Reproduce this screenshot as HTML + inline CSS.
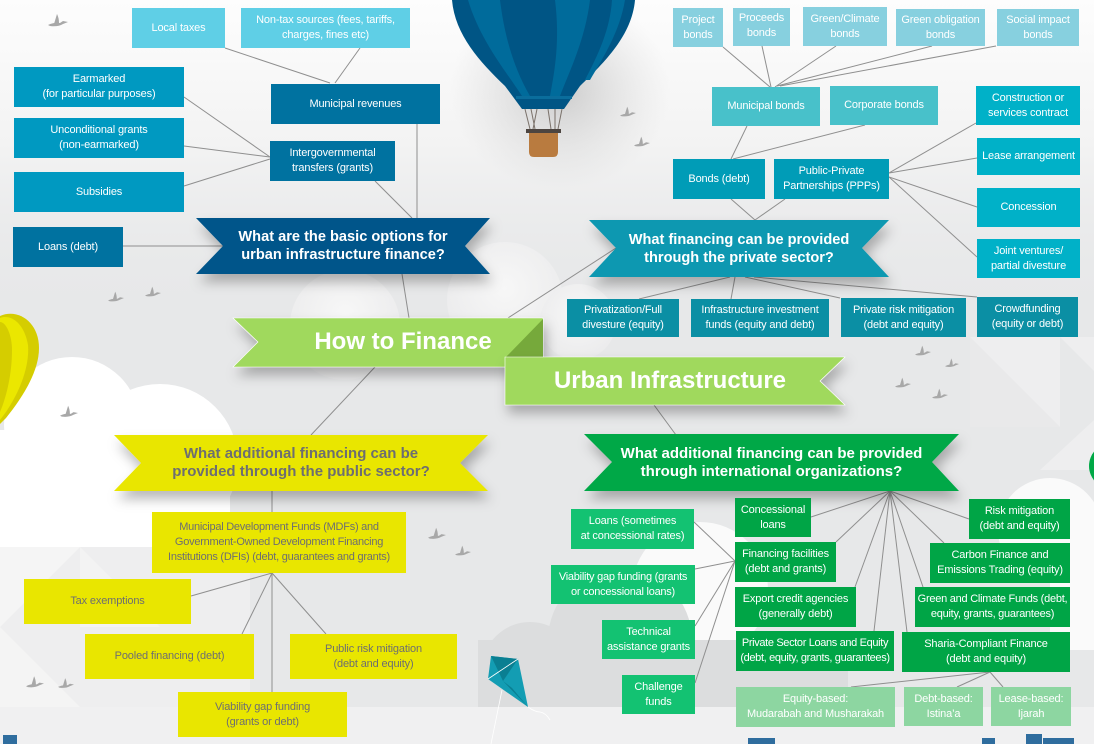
<!DOCTYPE html>
<html><head><meta charset="utf-8">
<style>
html,body{margin:0;padding:0;}
body{width:1094px;height:744px;overflow:hidden;position:relative;background:#e7e8e9;font-family:"Liberation Sans",sans-serif;}
svg.bg{position:absolute;left:0;top:0;}
.b{position:absolute;display:flex;align-items:center;justify-content:center;text-align:center;color:#fff;font-size:11px;line-height:15px;letter-spacing:-0.15px;white-space:nowrap;box-sizing:border-box;}
.y{background:#e9e600;color:#6d6e71;}
.rt{position:absolute;display:flex;align-items:center;justify-content:center;text-align:center;font-weight:bold;font-size:14.6px;line-height:18px;color:#fff;white-space:nowrap;}
</style></head><body>
<svg class="bg" width="1094" height="744" viewBox="0 0 1094 744" xmlns="http://www.w3.org/2000/svg">
<defs>
<linearGradient id="topg" x1="0" y1="0" x2="0" y2="1">
<stop offset="0" stop-color="#fdfdfd"/><stop offset="0.45" stop-color="#f3f3f3"/><stop offset="1" stop-color="#e7e8e9" stop-opacity="0"/>
</linearGradient>
<radialGradient id="bsh" cx="0.5" cy="0.5" r="0.5">
<stop offset="0" stop-color="#b9b9b9" stop-opacity="0.7"/><stop offset="1" stop-color="#d0d0d0" stop-opacity="0"/>
</radialGradient>
<radialGradient id="cl" cx="0.5" cy="0.4" r="0.6">
<stop offset="0" stop-color="#f7f7f7"/><stop offset="1" stop-color="#ebebec"/>
</radialGradient>
<filter id="ds" x="-10%" y="-20%" width="130%" height="180%">
<feDropShadow dx="3" dy="8" stdDeviation="6" flood-color="#000" flood-opacity="0.28"/>
</filter>
<symbol id="bird" viewBox="0 0 20 16" overflow="visible">
<path d="M0,11 Q6,8 12,9 L15,7 L20,8 L15,10 Q10,13 2,12 Z" fill="#a8a8a8"/>
<path d="M6,10 L9,0 Q11,4 11,9 Z" fill="#a8a8a8"/>
</symbol>
</defs>
<!-- background -->
<rect x="0" y="0" width="1094" height="744" fill="#e7e8e9"/>
<rect x="0" y="0" width="1094" height="320" fill="url(#topg)"/>
<!-- balloon shadow -->
<ellipse cx="560" cy="90" rx="110" ry="100" fill="url(#bsh)"/>
<!-- triangle pattern right -->
<g fill="#eeeeef">
<polygon points="970,337 1060,337 1060,427"/>
<polygon points="1060,337 1094,337 1094,371"/>
<polygon points="1094,420 1040,470 1094,470"/>
</g>
<g fill="#e9e9ea">
<polygon points="970,337 970,427 1060,427"/>
</g>
<!-- white clouds -->
<g fill="#ffffff">
<circle cx="72" cy="425" r="68"/>
<circle cx="160" cy="462" r="78"/>
<rect x="0" y="430" width="230" height="117"/>
</g>
<g fill="url(#cl)">
<circle cx="345" cy="325" r="55"/>
<circle cx="505" cy="300" r="58"/>
<circle cx="578" cy="322" r="38"/>
</g>
<g fill="#fafafa">
<circle cx="700" cy="590" r="68"/>
<circle cx="1050" cy="530" r="52"/>
<rect x="1050" y="530" width="44" height="120"/>
</g>
<!-- bottom-left triangles -->
<g>
<rect x="0" y="547" width="250" height="197" fill="#eeeeef"/>
<polygon points="0,547 80,547 0,627" fill="#f5f5f5"/>
<polygon points="0,627 80,707 0,707" fill="#f4f4f4"/>
<polygon points="80,547 160,627 80,627" fill="#f3f3f3"/>
</g>
<!-- bottom gray cloud -->
<g fill="#dcddde">
<circle cx="530" cy="670" r="48"/>
<circle cx="620" cy="640" r="72"/>
<rect x="478" y="640" width="370" height="67"/>
<circle cx="800" cy="690" r="45"/>
</g>
<rect x="0" y="707" width="1094" height="37" fill="#f0f0f1"/>
<!-- birds -->
<use href="#bird" x="48" y="14" width="20" height="16"/>
<use href="#bird" x="620" y="106" width="16" height="14"/>
<use href="#bird" x="634" y="136" width="16" height="14"/>
<use href="#bird" x="108" y="291" width="16" height="14"/>
<use href="#bird" x="145" y="286" width="16" height="14"/>
<use href="#bird" x="60" y="405" width="18" height="16"/>
<use href="#bird" x="428" y="527" width="18" height="16"/>
<use href="#bird" x="455" y="545" width="16" height="14"/>
<use href="#bird" x="26" y="676" width="18" height="15"/>
<use href="#bird" x="58" y="677" width="16" height="15"/>
<use href="#bird" x="915" y="345" width="16" height="14"/>
<use href="#bird" x="945" y="358" width="14" height="12"/>
<use href="#bird" x="895" y="377" width="16" height="14"/>
<use href="#bird" x="932" y="388" width="16" height="14"/>
<!-- top balloon -->
<path d="M452,0 C455,35 480,62 505,86 L522,109 L564,109 L580,86 C605,62 632,35 635,0 Z" fill="#005585"/>
<path d="M468,0 L500,0 C505,40 515,70 530,96 L522,96 C505,70 480,40 468,0 Z" fill="#006b9b"/>
<path d="M555,0 L590,0 C585,40 570,70 560,96 L550,96 C555,70 560,40 555,0 Z" fill="#006b9b"/>
<path d="M612,0 L625,0 C620,30 605,55 590,80 L585,80 C598,55 610,30 612,0 Z" fill="#006b9b"/>
<rect x="516" y="96" width="56" height="3" fill="#0a6d9c"/>
<g stroke="#7a716a" stroke-width="1">
<line x1="525" y1="109" x2="530" y2="129"/><line x1="531" y1="109" x2="535" y2="129"/><line x1="537" y1="109" x2="533" y2="129"/>
<line x1="548" y1="109" x2="551" y2="129"/><line x1="555" y1="109" x2="555" y2="129"/><line x1="562" y1="109" x2="558" y2="129"/>
</g>
<rect x="526" y="129" width="35" height="4" fill="#4d4540"/>
<path d="M529,133 L558,133 L558,152 Q558,157 553,157 L534,157 Q529,157 529,152 Z" fill="#b97b3f"/>
<!-- yellow balloon left -->
<path d="M0,316 C18,308 39,322 39,348 C39,372 22,398 6,418 L0,424 Z" fill="#d5cd00"/>
<path d="M0,318 C10,314 24,322 28,345 C30,370 16,400 0,420 Z" fill="#ebe700"/>
<path d="M0,322 C6,322 12,335 12,350 C12,375 6,398 0,412 Z" fill="#d5cd00"/>
<!-- green circle right -->
<circle cx="1112" cy="466" r="23" fill="#00a846"/>
<!-- kite -->
<polygon points="491,656 518,659 528,707 488,679" fill="#139db3"/>
<polygon points="491,656 518,659 503,681" fill="#0a7f92"/>
<polygon points="503,681 528,707 512,688" fill="#0a7f92"/>
<line x1="518" y1="659" x2="488" y2="679" stroke="#fff" stroke-width="0.8"/>
<path d="M528,707 Q535,712 540,712 Q546,713 550,720" stroke="#fff" fill="none" stroke-width="0.8"/>
<line x1="502" y1="690" x2="491" y2="744" stroke="#fff" stroke-width="0.8"/>
<!-- bottom blue shapes -->
<g fill="#2f6d9e">
<rect x="3" y="735" width="14" height="9"/>
<rect x="748" y="738" width="27" height="6"/>
<rect x="982" y="738" width="13" height="6"/>
<rect x="1026" y="734" width="16" height="10"/>
<rect x="1043" y="738" width="31" height="6"/>
</g>
<!-- connector lines -->
<g stroke="#8f8f8f" stroke-width="1" fill="none">
<line x1="225" y1="48" x2="330" y2="83"/>
<line x1="360" y1="48" x2="335" y2="83"/>
<line x1="184" y1="97" x2="270" y2="157"/>
<line x1="184" y1="146" x2="270" y2="157"/>
<line x1="184" y1="186" x2="270" y2="159"/>
<line x1="417" y1="124" x2="417" y2="218"/>
<line x1="375" y1="181" x2="412" y2="218"/>
<line x1="123" y1="246" x2="223" y2="246"/>
<line x1="402" y1="274" x2="409" y2="318"/>
<line x1="723" y1="47" x2="770" y2="87"/>
<line x1="762" y1="46" x2="771" y2="87"/>
<line x1="836" y1="46" x2="775" y2="87"/>
<line x1="932" y1="46" x2="777" y2="86"/>
<line x1="996" y1="46" x2="780" y2="86"/>
<line x1="747" y1="126" x2="731" y2="159"/>
<line x1="865" y1="125" x2="733" y2="159"/>
<line x1="731" y1="199" x2="755" y2="220"/>
<line x1="785" y1="199" x2="755" y2="220"/>
<line x1="889" y1="173" x2="976" y2="123"/>
<line x1="889" y1="173" x2="977" y2="158"/>
<line x1="889" y1="177" x2="977" y2="207"/>
<line x1="889" y1="177" x2="977" y2="257"/>
<line x1="616" y1="248" x2="508" y2="318"/>
<line x1="730" y1="277" x2="639" y2="299"/>
<line x1="735" y1="277" x2="731" y2="299"/>
<line x1="745" y1="277" x2="840" y2="298"/>
<line x1="754" y1="277" x2="977" y2="297"/>
<line x1="375" y1="367" x2="311" y2="435"/>
<line x1="654" y1="405" x2="676" y2="435"/>
<line x1="272" y1="491" x2="272" y2="512"/>
<line x1="272" y1="573" x2="191" y2="596"/>
<line x1="272" y1="573" x2="242" y2="634"/>
<line x1="272" y1="573" x2="326" y2="634"/>
<line x1="272" y1="573" x2="272" y2="692"/>
<line x1="890" y1="491" x2="811" y2="517"/>
<line x1="890" y1="491" x2="836" y2="542"/>
<line x1="890" y1="491" x2="855" y2="587"/>
<line x1="890" y1="491" x2="874" y2="631"/>
<line x1="890" y1="491" x2="907" y2="632"/>
<line x1="890" y1="491" x2="923" y2="587"/>
<line x1="890" y1="491" x2="944" y2="543"/>
<line x1="890" y1="491" x2="969" y2="519"/>
<line x1="735" y1="561" x2="694" y2="522"/>
<line x1="735" y1="561" x2="695" y2="569"/>
<line x1="735" y1="561" x2="695" y2="626"/>
<line x1="735" y1="561" x2="695" y2="683"/>
<line x1="990" y1="672" x2="851" y2="687"/>
<line x1="990" y1="672" x2="957" y2="687"/>
<line x1="990" y1="672" x2="1003" y2="687"/>
</g>
<!-- ribbons -->
<polygon filter="url(#ds)" points="196,218 490,218 465,246 490,274 196,274 223,246" fill="#00558a"/>
<polygon filter="url(#ds)" points="589,220 889,220 862,248 889,277 589,277 616,248" fill="#0a98b1"/>
<polygon filter="url(#ds)" points="114,435 488,435 460,463 488,491 114,491 141,463" fill="#e9e600"/>
<polygon filter="url(#ds)" points="584,434 959,434 932,462 959,491 584,491 612,462" fill="#00a846"/>
<polygon filter="url(#ds)" points="233,318 543,318 543,367 233,367 258,342" fill="#a0d95d" stroke="#ffffff" stroke-width="0.6"/>
<polygon points="506,357 543,319 543,357" fill="#76a93b"/>
<polygon filter="url(#ds)" points="505,357 845,357 820,381 845,405 505,405" fill="#a0d95d" stroke="#ffffff" stroke-width="0.6"/>
</svg>

<!-- ribbon texts -->
<div class="rt" style="left:196px;top:218px;width:294px;height:56px;">What are the basic options for<br>urban infrastructure finance?</div>
<div class="rt" style="left:589px;top:220px;width:300px;height:57px;">What financing can be provided<br>through the private sector?</div>
<div class="rt" style="left:114px;top:435px;width:374px;height:56px;color:#6d6e71;font-size:15px;">What additional financing can be<br>provided through the public sector?</div>
<div class="rt" style="left:584px;top:434px;width:375px;height:57px;font-size:15px;">What additional financing can be provided<br>through international organizations?</div>
<div class="rt" style="left:258px;top:318px;width:290px;height:48px;font-size:24px;">How to Finance</div>
<div class="rt" style="left:505px;top:357px;width:330px;height:48px;font-size:24px;">Urban Infrastructure</div>

<!-- top-left -->
<div class="b" style="left:132px;top:8px;width:93px;height:40px;background:#5fcfe6;">Local taxes</div>
<div class="b" style="left:241px;top:8px;width:169px;height:40px;background:#5fcfe6;">Non-tax sources (fees, tariffs,<br>charges, fines etc)</div>
<div class="b" style="left:14px;top:67px;width:170px;height:40px;background:#0099c1;">Earmarked<br>(for particular purposes)</div>
<div class="b" style="left:14px;top:118px;width:170px;height:40px;background:#0099c1;">Unconditional grants<br>(non-earmarked)</div>
<div class="b" style="left:14px;top:172px;width:170px;height:40px;background:#0099c1;">Subsidies</div>
<div class="b" style="left:13px;top:227px;width:110px;height:40px;background:#0072a0;">Loans (debt)</div>
<div class="b" style="left:271px;top:84px;width:169px;height:40px;background:#0072a0;">Municipal revenues</div>
<div class="b" style="left:270px;top:141px;width:125px;height:40px;background:#0072a0;">Intergovernmental<br>transfers (grants)</div>

<!-- top-right -->
<div class="b" style="left:673px;top:8px;width:50px;height:39px;background:#87d0df;">Project<br>bonds</div>
<div class="b" style="left:733px;top:8px;width:57px;height:38px;background:#87d0df;align-items:flex-start;padding-top:3px;">Proceeds<br>bonds</div>
<div class="b" style="left:803px;top:7px;width:84px;height:39px;background:#87d0df;">Green/Climate<br>bonds</div>
<div class="b" style="left:896px;top:9px;width:89px;height:37px;background:#87d0df;">Green obligation<br>bonds</div>
<div class="b" style="left:997px;top:9px;width:82px;height:37px;background:#87d0df;">Social impact<br>bonds</div>
<div class="b" style="left:712px;top:87px;width:108px;height:39px;background:#48c1ca;">Municipal bonds</div>
<div class="b" style="left:830px;top:86px;width:108px;height:39px;background:#48c1ca;">Corporate bonds</div>
<div class="b" style="left:976px;top:86px;width:104px;height:39px;background:#00b1c8;">Construction or<br>services contract</div>
<div class="b" style="left:977px;top:138px;width:103px;height:37px;background:#00b1c8;">Lease arrangement</div>
<div class="b" style="left:977px;top:188px;width:103px;height:39px;background:#00b1c8;">Concession</div>
<div class="b" style="left:977px;top:239px;width:103px;height:39px;background:#00b1c8;">Joint ventures/<br>partial divesture</div>
<div class="b" style="left:673px;top:159px;width:92px;height:40px;background:#009cb7;">Bonds (debt)</div>
<div class="b" style="left:774px;top:159px;width:115px;height:40px;background:#009cb7;">Public-Private<br>Partnerships (PPPs)</div>
<div class="b" style="left:567px;top:299px;width:112px;height:38px;background:#0b8fa4;">Privatization/Full<br>divesture (equity)</div>
<div class="b" style="left:691px;top:299px;width:138px;height:38px;background:#0b8fa4;">Infrastructure investment<br>funds (equity and debt)</div>
<div class="b" style="left:841px;top:298px;width:125px;height:39px;background:#0b8fa4;">Private risk mitigation<br>(debt and equity)</div>
<div class="b" style="left:977px;top:297px;width:101px;height:40px;background:#0b8fa4;">Crowdfunding<br>(equity or debt)</div>

<!-- bottom-left yellow -->
<div class="b y" style="left:152px;top:512px;width:254px;height:61px;letter-spacing:-0.25px;">Municipal Development Funds (MDFs) and<br>Government-Owned Development Financing<br>Institutions (DFIs) (debt, guarantees and grants)</div>
<div class="b y" style="left:24px;top:579px;width:167px;height:45px;">Tax exemptions</div>
<div class="b y" style="left:85px;top:634px;width:169px;height:45px;">Pooled financing (debt)</div>
<div class="b y" style="left:290px;top:634px;width:167px;height:45px;">Public risk mitigation<br>(debt and equity)</div>
<div class="b y" style="left:178px;top:692px;width:169px;height:45px;">Viability gap funding<br>(grants or debt)</div>

<!-- bottom-right green -->
<div class="b" style="left:571px;top:509px;width:123px;height:40px;background:#13c272;">Loans (sometimes<br>at concessional rates)</div>
<div class="b" style="left:551px;top:565px;width:144px;height:39px;background:#13c272;letter-spacing:-0.25px;">Viability gap funding (grants<br>or concessional loans)</div>
<div class="b" style="left:602px;top:620px;width:93px;height:39px;background:#13c272;">Technical<br>assistance grants</div>
<div class="b" style="left:622px;top:675px;width:73px;height:39px;background:#13c272;">Challenge<br>funds</div>
<div class="b" style="left:735px;top:498px;width:76px;height:39px;background:#00a546;">Concessional<br>loans</div>
<div class="b" style="left:735px;top:542px;width:101px;height:40px;background:#00a546;">Financing facilities<br>(debt and grants)</div>
<div class="b" style="left:735px;top:587px;width:121px;height:40px;background:#00a546;">Export credit agencies<br>(generally debt)</div>
<div class="b" style="left:736px;top:631px;width:158px;height:40px;background:#00a546;letter-spacing:-0.35px;">Private Sector Loans and Equity<br>(debt, equity, grants, guarantees)</div>
<div class="b" style="left:969px;top:499px;width:101px;height:40px;background:#00a546;">Risk mitigation<br>(debt and equity)</div>
<div class="b" style="left:930px;top:543px;width:140px;height:40px;background:#00a546;">Carbon Finance and<br>Emissions Trading (equity)</div>
<div class="b" style="left:915px;top:587px;width:155px;height:40px;background:#00a546;letter-spacing:-0.25px;">Green and Climate Funds (debt,<br>equity, grants, guarantees)</div>
<div class="b" style="left:902px;top:632px;width:168px;height:40px;background:#00a546;">Sharia-Compliant Finance<br>(debt and equity)</div>
<div class="b" style="left:736px;top:687px;width:159px;height:40px;background:#8dd6a1;">Equity-based:<br>Mudarabah and Musharakah</div>
<div class="b" style="left:904px;top:687px;width:79px;height:39px;background:#8dd6a1;">Debt-based:<br>Istina’a</div>
<div class="b" style="left:991px;top:687px;width:80px;height:39px;background:#8dd6a1;">Lease-based:<br>Ijarah</div>
</body></html>
